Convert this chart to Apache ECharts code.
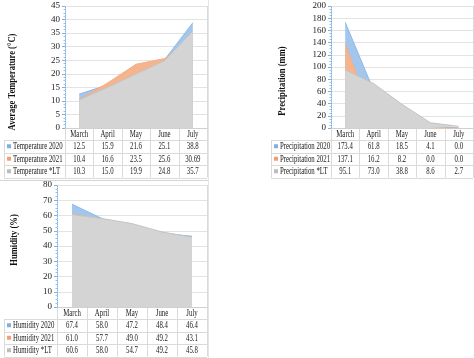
<!DOCTYPE html>
<html><head><meta charset="utf-8">
<script src="https://cdn.jsdelivr.net/npm/echarts@6/dist/echarts.min.js"></script>
<style>html,body{margin:0;padding:0;background:#fff}#c{width:474px;height:358px}</style>
</head><body><div id="c"></div>
<script>
const months = ['March','April','May','June','July'];
const temp2020 = [12.5, 15.9, 21.6, 25.1, 38.8];
const temp2021 = [10.4, 16.6, 23.5, 25.6, 30.69];
const tempLT   = [10.3, 15.0, 19.9, 24.8, 35.7];
const prec2020 = [173.4, 61.8, 18.5, 4.1, 0.0];
const prec2021 = [137.1, 16.2, 8.2, 0.0, 0.0];
const precLT   = [95.1, 73.0, 38.8, 8.6, 2.7];
const hum2020  = [67.4, 58.0, 47.2, 48.4, 46.4];
const hum2021  = [61.0, 57.7, 49.0, 49.2, 43.1];
const humLT    = [60.6, 58.0, 54.7, 49.2, 45.8];
const tempNames = ['Temperature 2020','Temperature 2021','Temperature *LT'];
const precNames = ['Precipitation 2020','Precipitation 2021','Precipitation *LT'];
const humNames  = ['Humidity 2020','Humidity 2021','Humidity *LT'];
const tempTitle = 'Average Temperature (°C)';
const precTitle = 'Precipitation (mm)';
const humTitle  = 'Humidity (%)';

const FONT = '"Liberation Serif","Times New Roman",serif';
const SX = 0.68;
const COLORS = [
  {line:'#8fb9e3', fill:'rgba(163,198,236,1)', mark:'#7fb0e0'},
  {line:'#f2ae86', fill:'rgba(246,180,140,1)', mark:'#f0a070'},
  {line:'#c4c4c4', fill:'#d4d4d4', mark:'#bdbdbd'}
];
function fmt(v){
  return Math.abs(v*10 - Math.round(v*10)) < 1e-9 ? v.toFixed(1) : String(v);
}
const panels = [
  {left:65, top:6, w:142, h:122, max:45, interval:5, legX:4, names:tempNames, data:[temp2020,temp2021,tempLT], title:tempTitle, titleX:13, titleY:82},
  {left:331, top:6, w:142, h:122, max:200, interval:20, legX:271, names:precNames, data:[prec2020,prec2021,precLT], title:precTitle, titleX:283, titleY:81},
  {left:57, top:185, w:150, h:122, max:80, interval:10, legX:4, names:humNames, data:[hum2020,hum2021,humLT], title:humTitle, titleX:15, titleY:240}
];
const grid=[], xAxis=[], yAxis=[], series=[], graphic=[];
const lineC = '#dadada';
function txt(x, y, s, align, font, extra){
  return Object.assign({type:'text', x:x, y:y, scaleX:SX, silent:true,
    style:{text:s, font:font || ('10px '+FONT), fill:'#1a1a1a', textAlign:align, textVerticalAlign:'middle'}}, extra||{});
}
panels.forEach((p,gi)=>{
  grid.push({left:p.left, top:p.top, width:p.w, height:p.h, containLabel:false});
  xAxis.push({type:'category', gridIndex:gi, data:months, boundaryGap:true,
    axisLine:{show:true, lineStyle:{color:'#d0d0d0'}}, axisTick:{show:false},
    axisLabel:{show:false}, splitLine:{show:false}});
  yAxis.push({type:'value', gridIndex:gi, min:0, max:p.max, interval:p.interval,
    axisLine:{show:true, lineStyle:{color:'#7fb2e0', width:1, type:'dotted'}},
    axisTick:{show:true, length:3, inside:false, lineStyle:{color:'#7fb2e0'}},
    minorTick:{show:true, splitNumber:4, length:1.5, lineStyle:{color:'#9cc4ea'}},
    axisLabel:{margin:5, fontFamily:FONT, fontSize:9, color:'#1a1a1a'},
    splitLine:{show:true, lineStyle:{color:'#e3e3e3', width:1}}});
  p.data.forEach((arr,si)=>{
    series.push({type:'line', xAxisIndex:gi, yAxisIndex:gi, data:arr, name:p.names[si],
      symbol:'none', smooth:false, z:2+si,
      lineStyle:{color:COLORS[si].line, width:1},
      areaStyle:{color:COLORS[si].fill, opacity:1}});
  });
  const catW = p.w/5;
  const axB = p.top + p.h;
  const hdr = 12, rh = 12.5;
  const tb = axB + hdr + rh*3;
  for(let k=0;k<=5;k++){
    const x = Math.round(p.left + k*catW)+0.5;
    const y1 = (k===5) ? p.top : axB;
    graphic.push({type:'line', shape:{x1:x, y1:y1, x2:x, y2:tb}, style:{stroke:lineC, lineWidth:1}, silent:true});
  }
  graphic.push({type:'line', shape:{x1:p.legX+0.5, y1:axB+hdr, x2:p.legX+0.5, y2:tb}, style:{stroke:lineC, lineWidth:1}, silent:true});
  for(let r=0;r<=3;r++){
    const y = Math.round(axB + hdr + r*rh)+0.5;
    graphic.push({type:'line', shape:{x1:p.legX, y1:y, x2:p.left+p.w, y2:y}, style:{stroke:lineC, lineWidth:1}, silent:true});
  }
  months.forEach((m,ci)=>{
    graphic.push(txt(p.left + catW*(ci+0.5), axB + hdr/2 + 0.5, m, 'center'));
  });
  p.data.forEach((arr,si)=>{
    const cy = axB + hdr + rh*(si+0.5) + 0.5;
    graphic.push({type:'rect', shape:{x:p.legX+3, y:cy-2.5, width:4, height:4}, style:{fill:COLORS[si].mark}, silent:true});
    graphic.push(txt(p.legX+9, cy, p.names[si], 'left'));
    arr.forEach((v,ci)=>{
      graphic.push(txt(p.left + catW*(ci+0.5), cy, fmt(v), 'center'));
    });
  });
  graphic.push({type:'text', x:p.titleX, y:p.titleY, rotation:Math.PI/2, scaleX:0.9, silent:true,
    style:{text:p.title, font:'bold 9.5px '+FONT, fill:'#111', textAlign:'center', textVerticalAlign:'middle'}});
});
graphic.push({type:'line', shape:{x1:0, y1:180.5, x2:209, y2:180.5}, style:{stroke:'#d6d6d6', lineWidth:1}, silent:true});
graphic.push({type:'line', shape:{x1:208.5, y1:0, x2:208.5, y2:358}, style:{stroke:'#e6e6e6', lineWidth:1}, silent:true});

const chart = echarts.init(document.getElementById('c'), null, {renderer:'canvas'});
chart.setOption({animation:false, backgroundColor:'#fff', grid, xAxis, yAxis, series, graphic});
</script></body></html>
